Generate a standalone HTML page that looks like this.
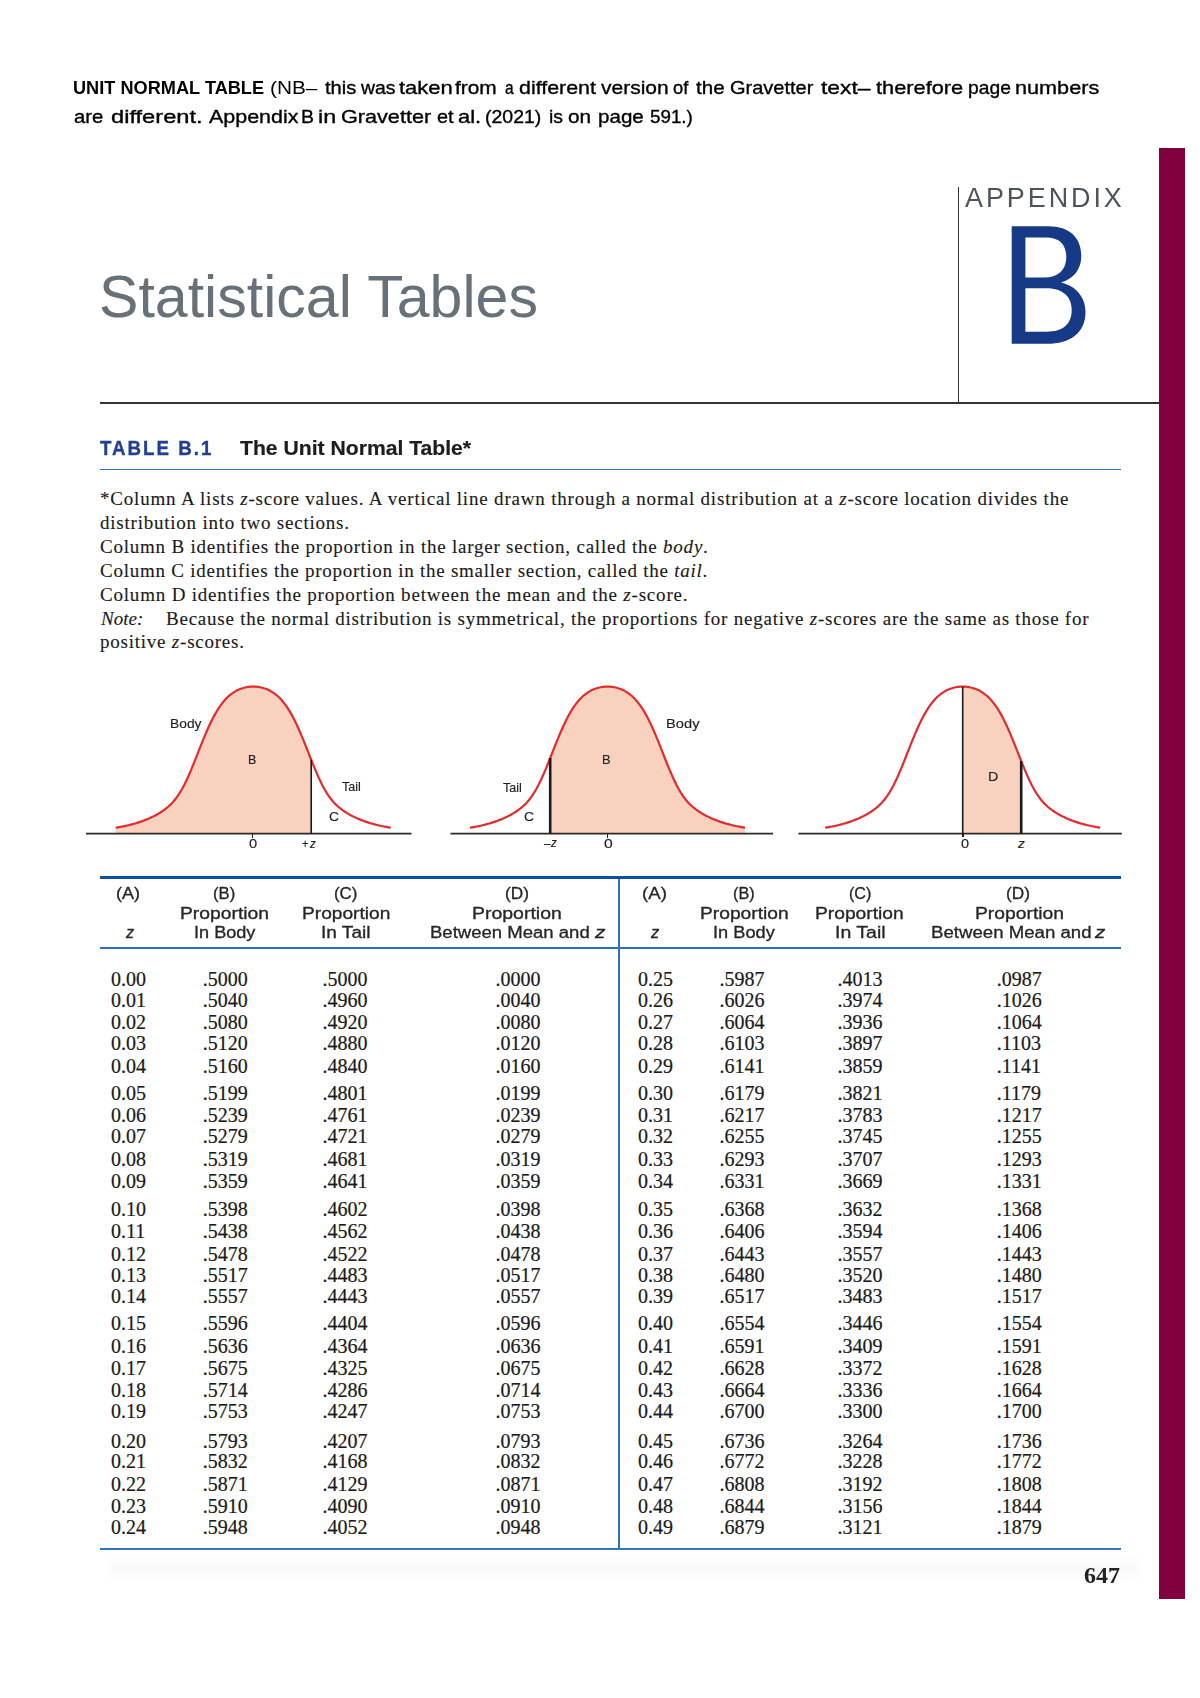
<!DOCTYPE html>
<html><head><meta charset="utf-8"><style>
html,body{margin:0;padding:0;background:#fff;}
body{width:1200px;height:1698px;position:relative;overflow:hidden;}
.t{position:absolute;white-space:nowrap;line-height:1;transform-origin:0 0;}
.ctr{text-align:center;}
.r{position:absolute;}
.abs{position:absolute;}
.d{position:absolute;white-space:nowrap;line-height:1;font-family:'Liberation Serif', serif;font-size:20px;color:#1a1a1a;-webkit-text-stroke:0.2px #1a1a1a;}
.sb{font-weight:normal;}
</style></head><body>
<div class="t" style="left:73.04px;top:77.92px;font-family:'Liberation Sans', sans-serif;font-size:19px;font-weight:bold;font-style:normal;color:#000;transform:scaleX(0.9562);">UNIT NORMAL TABLE</div>
<div class="t" style="left:269.90px;top:77.92px;font-family:'Liberation Sans', sans-serif;font-size:19px;font-weight:normal;font-style:normal;color:#000;transform:scaleX(1.0955);">(NB–</div>
<div class="t" style="left:325.20px;top:77.92px;font-family:'Liberation Sans', sans-serif;font-size:19px;font-weight:normal;font-style:normal;color:#000;transform:scaleX(1.0596);-webkit-text-stroke:0.35px #000;">this</div>
<div class="t" style="left:361.02px;top:77.92px;font-family:'Liberation Sans', sans-serif;font-size:19px;font-weight:normal;font-style:normal;color:#000;transform:scaleX(1.0208);-webkit-text-stroke:0.35px #000;">was</div>
<div class="t" style="left:398.50px;top:77.92px;font-family:'Liberation Sans', sans-serif;font-size:19px;font-weight:normal;font-style:normal;color:#000;transform:scaleX(1.1587);-webkit-text-stroke:0.35px #000;">taken</div>
<div class="t" style="left:455.00px;top:77.92px;font-family:'Liberation Sans', sans-serif;font-size:19px;font-weight:normal;font-style:normal;color:#000;transform:scaleX(1.0976);-webkit-text-stroke:0.35px #000;">from</div>
<div class="t" style="left:504.70px;top:77.92px;font-family:'Liberation Sans', sans-serif;font-size:19px;font-weight:normal;font-style:normal;color:#000;transform:scaleX(0.8182);-webkit-text-stroke:0.35px #000;">a</div>
<div class="t" style="left:519.00px;top:77.92px;font-family:'Liberation Sans', sans-serif;font-size:19px;font-weight:normal;font-style:normal;color:#000;transform:scaleX(1.1256);-webkit-text-stroke:0.35px #000;">different</div>
<div class="t" style="left:601.00px;top:77.92px;font-family:'Liberation Sans', sans-serif;font-size:19px;font-weight:normal;font-style:normal;color:#000;transform:scaleX(1.1041);-webkit-text-stroke:0.35px #000;">version</div>
<div class="t" style="left:673.00px;top:77.92px;font-family:'Liberation Sans', sans-serif;font-size:19px;font-weight:normal;font-style:normal;color:#000;transform:scaleX(0.9658);-webkit-text-stroke:0.35px #000;">of</div>
<div class="t" style="left:696.00px;top:77.92px;font-family:'Liberation Sans', sans-serif;font-size:19px;font-weight:normal;font-style:normal;color:#000;transform:scaleX(1.0834);-webkit-text-stroke:0.35px #000;">the</div>
<div class="t" style="left:730.00px;top:77.92px;font-family:'Liberation Sans', sans-serif;font-size:19px;font-weight:normal;font-style:normal;color:#000;transform:scaleX(1.0518);-webkit-text-stroke:0.35px #000;">Gravetter</div>
<div class="t" style="left:821.25px;top:77.92px;font-family:'Liberation Sans', sans-serif;font-size:19px;font-weight:normal;font-style:normal;color:#000;transform:scaleX(1.2012);-webkit-text-stroke:0.35px #000;">text–</div>
<div class="t" style="left:875.50px;top:77.92px;font-family:'Liberation Sans', sans-serif;font-size:19px;font-weight:normal;font-style:normal;color:#000;transform:scaleX(1.1460);-webkit-text-stroke:0.35px #000;">therefore</div>
<div class="t" style="left:967.74px;top:77.92px;font-family:'Liberation Sans', sans-serif;font-size:19px;font-weight:normal;font-style:normal;color:#000;transform:scaleX(1.0135);-webkit-text-stroke:0.35px #000;">page</div>
<div class="t" style="left:1015.11px;top:77.92px;font-family:'Liberation Sans', sans-serif;font-size:19px;font-weight:normal;font-style:normal;color:#000;transform:scaleX(1.1392);-webkit-text-stroke:0.35px #000;">numbers</div>
<div class="t" style="left:73.75px;top:106.92px;font-family:'Liberation Sans', sans-serif;font-size:19px;font-weight:normal;font-style:normal;color:#000;transform:scaleX(1.0690);-webkit-text-stroke:0.35px #000;">are</div>
<div class="t" style="left:111.25px;top:106.92px;font-family:'Liberation Sans', sans-serif;font-size:19px;font-weight:normal;font-style:normal;color:#000;transform:scaleX(1.2447);-webkit-text-stroke:0.35px #000;">different.</div>
<div class="t" style="left:208.75px;top:106.92px;font-family:'Liberation Sans', sans-serif;font-size:19px;font-weight:normal;font-style:normal;color:#000;transform:scaleX(1.1288);-webkit-text-stroke:0.35px #000;">Appendix</div>
<div class="t" style="left:301.48px;top:106.92px;font-family:'Liberation Sans', sans-serif;font-size:19px;font-weight:normal;font-style:normal;color:#000;transform:scaleX(1.0227);-webkit-text-stroke:0.35px #000;">B</div>
<div class="t" style="left:317.52px;top:106.92px;font-family:'Liberation Sans', sans-serif;font-size:19px;font-weight:normal;font-style:normal;color:#000;transform:scaleX(1.2291);-webkit-text-stroke:0.35px #000;">in</div>
<div class="t" style="left:340.80px;top:106.92px;font-family:'Liberation Sans', sans-serif;font-size:19px;font-weight:normal;font-style:normal;color:#000;transform:scaleX(1.1382);-webkit-text-stroke:0.35px #000;">Gravetter</div>
<div class="t" style="left:436.70px;top:106.92px;font-family:'Liberation Sans', sans-serif;font-size:19px;font-weight:normal;font-style:normal;color:#000;transform:scaleX(1.0443);-webkit-text-stroke:0.35px #000;">et</div>
<div class="t" style="left:458.30px;top:106.92px;font-family:'Liberation Sans', sans-serif;font-size:19px;font-weight:normal;font-style:normal;color:#000;transform:scaleX(1.1550);-webkit-text-stroke:0.35px #000;">al.</div>
<div class="t" style="left:484.77px;top:106.92px;font-family:'Liberation Sans', sans-serif;font-size:19px;font-weight:normal;font-style:normal;color:#000;transform:scaleX(1.0262);-webkit-text-stroke:0.35px #000;">(2021)</div>
<div class="t" style="left:548.98px;top:106.92px;font-family:'Liberation Sans', sans-serif;font-size:19px;font-weight:normal;font-style:normal;color:#000;transform:scaleX(1.0228);-webkit-text-stroke:0.35px #000;">is</div>
<div class="t" style="left:568.30px;top:106.92px;font-family:'Liberation Sans', sans-serif;font-size:19px;font-weight:normal;font-style:normal;color:#000;transform:scaleX(1.0940);-webkit-text-stroke:0.35px #000;">on</div>
<div class="t" style="left:598.12px;top:106.92px;font-family:'Liberation Sans', sans-serif;font-size:19px;font-weight:normal;font-style:normal;color:#000;transform:scaleX(1.0835);-webkit-text-stroke:0.35px #000;">page</div>
<div class="t" style="left:650.00px;top:106.92px;font-family:'Liberation Sans', sans-serif;font-size:19px;font-weight:normal;font-style:normal;color:#000;transform:scaleX(0.9888);-webkit-text-stroke:0.35px #000;">591.)</div>
<div class="r" style="left:1159.1px;top:148px;width:26.3px;height:1451px;background:#81003e;"></div>
<div class="r" style="left:957.5px;top:187px;width:1.6px;height:217px;background:#333;"></div>
<div class="r" style="left:100px;top:402.2px;width:1059px;height:1.6px;background:#333;"></div>
<div id="appendix" class="t" style="left:965.00px;top:183.72px;font-family:'Liberation Sans', sans-serif;font-size:27.5px;font-weight:normal;font-style:normal;color:#4d555a;letter-spacing:3px;transform:scaleX(0.9797);">APPENDIX</div>
<svg class="abs" style="left:0;top:0" width="1200" height="420" viewBox="0 0 1200 420"><path fill="#163a85" fill-rule="evenodd" d="M1011.7,226.3 L1048,226.3 C1070,226.3 1081.3,238 1081.3,256 C1081.3,270 1073,279 1061,282.5 C1076,286 1085.5,297 1085.5,312 C1085.5,333 1070,343.8 1047,343.8 L1011.7,343.8 Z M1025.4,237.5 L1046,237.5 C1059,237.5 1066.3,244 1066.3,257 C1066.3,270 1058,277.5 1044,277.5 L1025.4,277.5 Z M1025.4,288.3 L1047,288.3 C1063,288.3 1071.7,297 1071.7,310 C1071.7,324 1063,331.7 1047,331.7 L1025.4,331.7 Z"/></svg>
<div id="stat" class="t" style="left:99.00px;top:267.66px;font-family:'Liberation Sans', sans-serif;font-size:59px;font-weight:normal;font-style:normal;color:#66717a;letter-spacing:0px;transform:scaleX(1.0014);">Statistical Tables</div>
<div id="tb1" class="t" style="left:100.40px;top:437.95px;font-family:'Liberation Sans', sans-serif;font-size:20.5px;font-weight:bold;font-style:normal;color:#21418f;letter-spacing:2.2px;transform:scaleX(0.9131);-webkit-text-stroke:0.35px #21418f;">TABLE B.1</div>
<div id="tb2" class="t" style="left:240.00px;top:438.37px;font-family:'Liberation Sans', sans-serif;font-size:20px;font-weight:bold;font-style:normal;color:#1e1e1e;letter-spacing:0px;transform:scaleX(1.0574);-webkit-text-stroke:0.2px #1e1e1e;">The Unit Normal Table*</div>
<div class="r" style="left:100px;top:468.6px;width:1021px;height:1.8px;background:#3574bd;"></div>
<div id="p1" class="t" style="left:100.00px;top:489.09px;font-family:'Liberation Serif', serif;font-size:19px;font-weight:normal;font-style:normal;color:#1a1a1a;letter-spacing:0.8103448275862069px;-webkit-text-stroke:0.12px #1a1a1a;">*Column A lists <i>z</i>-score values. A vertical line drawn through a normal distribution at a <i>z</i>-score location divides the</div>
<div id="p2" class="t" style="left:100.00px;top:513.09px;font-family:'Liberation Serif', serif;font-size:19px;font-weight:normal;font-style:normal;color:#1a1a1a;letter-spacing:0.7700000000000025px;-webkit-text-stroke:0.12px #1a1a1a;">distribution into two sections.</div>
<div id="p3" class="t" style="left:100.00px;top:537.09px;font-family:'Liberation Serif', serif;font-size:19px;font-weight:normal;font-style:normal;color:#1a1a1a;letter-spacing:0.7780821917808196px;-webkit-text-stroke:0.12px #1a1a1a;">Column B identifies the proportion in the larger section, called the <i>body</i>.</div>
<div id="p4" class="t" style="left:100.00px;top:561.29px;font-family:'Liberation Serif', serif;font-size:19px;font-weight:normal;font-style:normal;color:#1a1a1a;letter-spacing:0.7540540540540519px;-webkit-text-stroke:0.12px #1a1a1a;">Column C identifies the proportion in the smaller section, called the <i>tail</i>.</div>
<div id="p5" class="t" style="left:100.00px;top:584.89px;font-family:'Liberation Serif', serif;font-size:19px;font-weight:normal;font-style:normal;color:#1a1a1a;letter-spacing:0.8074626865671594px;-webkit-text-stroke:0.12px #1a1a1a;">Column D identifies the proportion between the mean and the <i>z</i>-score.</div>
<div id="p6a" class="t" style="left:101.00px;top:609.09px;font-family:'Liberation Serif', serif;font-size:19px;font-weight:normal;font-style:normal;color:#1a1a1a;letter-spacing:0px;-webkit-text-stroke:0.12px #1a1a1a;"><i>Note:</i></div>
<div id="p6" class="t" style="left:166.00px;top:609.09px;font-family:'Liberation Serif', serif;font-size:19px;font-weight:normal;font-style:normal;color:#1a1a1a;letter-spacing:0.7745454545454488px;-webkit-text-stroke:0.12px #1a1a1a;">Because the normal distribution is symmetrical, the proportions for negative <i>z</i>-scores are the same as those for</div>
<div id="p7" class="t" style="left:100.00px;top:632.39px;font-family:'Liberation Serif', serif;font-size:19px;font-weight:normal;font-style:normal;color:#1a1a1a;letter-spacing:0.7705882352941226px;-webkit-text-stroke:0.12px #1a1a1a;">positive <i>z</i>-scores.</div>
<svg class="abs" style="left:0;top:0" width="1200" height="880" viewBox="0 0 1200 880"><polygon fill="#f8d1bf" points="115.70,833.60 115.70,827.67 118.14,827.29 120.59,826.88 123.03,826.42 125.47,825.92 127.92,825.38 130.36,824.79 132.81,824.15 135.25,823.45 137.69,822.70 140.14,821.89 142.58,821.02 145.02,820.08 147.47,819.08 149.91,818.01 152.36,816.86 154.80,815.63 157.24,814.31 159.69,812.89 162.13,811.34 164.57,809.63 167.02,807.73 169.46,805.58 171.91,803.15 174.35,800.38 176.79,797.22 179.24,793.63 181.68,789.58 184.12,785.06 186.57,780.10 189.01,774.73 191.46,769.02 193.90,763.04 196.34,756.90 198.79,750.69 201.23,744.52 203.67,738.47 206.12,732.64 208.56,727.10 211.01,721.90 213.45,717.09 215.89,712.68 218.34,708.68 220.78,705.10 223.22,701.92 225.67,699.12 228.11,696.68 230.56,694.57 233.00,692.77 235.44,691.24 237.89,689.97 240.33,688.93 242.77,688.10 245.22,687.46 247.66,687.00 250.11,686.71 252.55,686.59 254.99,686.63 257.44,686.83 259.88,687.19 262.32,687.73 264.77,688.46 267.21,689.39 269.66,690.53 272.10,691.92 274.54,693.57 276.99,695.52 279.43,697.78 281.88,700.38 284.32,703.36 286.76,706.73 289.21,710.50 291.65,714.69 294.09,719.29 296.54,724.29 298.98,729.65 301.42,735.34 303.87,741.28 306.31,747.40 308.76,753.60 311.20,759.79 311.20,833.60"/><polyline fill="none" stroke="#e42b2d" stroke-width="2.2" points="115.70,827.67 117.99,827.32 120.28,826.93 122.57,826.51 124.87,826.05 127.16,825.55 129.45,825.01 131.74,824.43 134.03,823.80 136.32,823.13 138.62,822.40 140.91,821.62 143.20,820.79 145.49,819.89 147.78,818.94 150.07,817.93 152.37,816.86 154.66,815.71 156.95,814.48 159.24,813.16 161.53,811.73 163.82,810.17 166.12,808.45 168.41,806.54 170.70,804.39 172.99,801.97 175.28,799.22 177.57,796.12 179.87,792.63 182.16,788.73 184.45,784.43 186.74,779.73 189.03,774.68 191.32,769.33 193.62,763.75 195.91,758.00 198.20,752.18 200.49,746.38 202.78,740.66 205.07,735.10 207.37,729.77 209.66,724.72 211.95,720.00 214.24,715.61 216.53,711.59 218.82,707.93 221.12,704.64 223.41,701.70 225.70,699.09 227.99,696.79 230.28,694.79 232.57,693.06 234.87,691.58 237.16,690.32 239.45,689.28 241.74,688.42 244.03,687.74 246.32,687.23 248.62,686.87 250.91,686.66 253.20,686.58 255.49,686.66 257.78,686.87 260.07,687.23 262.37,687.74 264.66,688.42 266.95,689.28 269.24,690.32 271.53,691.58 273.82,693.06 276.12,694.79 278.41,696.79 280.70,699.09 282.99,701.70 285.28,704.64 287.57,707.93 289.87,711.59 292.16,715.61 294.45,720.00 296.74,724.72 299.03,729.77 301.32,735.10 303.62,740.66 305.91,746.38 308.20,752.18 310.49,758.00 312.78,763.75 315.07,769.33 317.37,774.68 319.66,779.73 321.95,784.43 324.24,788.73 326.53,792.63 328.82,796.12 331.12,799.22 333.41,801.97 335.70,804.39 337.99,806.54 340.28,808.45 342.57,810.17 344.87,811.73 347.16,813.16 349.45,814.48 351.74,815.71 354.03,816.86 356.32,817.93 358.62,818.94 360.91,819.89 363.20,820.79 365.49,821.62 367.78,822.40 370.07,823.13 372.37,823.80 374.66,824.43 376.95,825.01 379.24,825.55 381.53,826.05 383.82,826.51 386.12,826.93 388.41,827.32 390.70,827.67"/><line x1="86" y1="833.6" x2="411.5" y2="833.6" stroke="#2a2a2a" stroke-width="1.6"/><line x1="311.2" y1="759.79" x2="311.2" y2="833.6" stroke="#1a1a1a" stroke-width="1.6"/><polygon fill="#f8d1bf" points="550.20,833.60 550.20,758.02 552.63,751.84 555.07,745.67 557.50,739.62 559.94,733.76 562.38,728.18 564.81,722.93 567.25,718.05 569.68,713.57 572.12,709.50 574.55,705.84 576.99,702.59 579.42,699.72 581.86,697.21 584.29,695.03 586.73,693.16 589.16,691.58 591.60,690.26 594.03,689.16 596.47,688.28 598.90,687.60 601.34,687.10 603.77,686.77 606.21,686.61 608.64,686.60 611.08,686.76 613.51,687.08 615.95,687.57 618.38,688.24 620.82,689.10 623.25,690.18 625.68,691.49 628.12,693.06 630.56,694.90 632.99,697.06 635.42,699.55 637.86,702.39 640.29,705.62 642.73,709.26 645.16,713.30 647.60,717.75 650.03,722.61 652.47,727.84 654.90,733.40 657.34,739.24 659.77,745.28 662.21,751.45 664.64,757.63 667.08,763.74 669.51,769.67 671.95,775.32 674.38,780.63 676.82,785.53 679.25,789.99 681.69,793.98 684.12,797.52 686.56,800.64 689.00,803.37 691.43,805.76 693.87,807.88 696.30,809.76 698.74,811.45 701.17,812.98 703.61,814.40 706.04,815.70 708.48,816.92 710.91,818.06 713.35,819.13 715.78,820.12 718.22,821.05 720.65,821.92 723.09,822.72 725.52,823.47 727.96,824.16 730.39,824.80 732.83,825.39 735.26,825.93 737.69,826.43 740.13,826.88 742.57,827.29 745.00,827.67 745.00,833.60"/><polyline fill="none" stroke="#e42b2d" stroke-width="2.2" points="470.00,827.67 472.29,827.32 474.58,826.93 476.88,826.51 479.17,826.05 481.46,825.55 483.75,825.01 486.04,824.43 488.33,823.80 490.62,823.13 492.92,822.40 495.21,821.62 497.50,820.79 499.79,819.89 502.08,818.94 504.38,817.93 506.67,816.86 508.96,815.71 511.25,814.48 513.54,813.16 515.83,811.73 518.12,810.17 520.42,808.45 522.71,806.54 525.00,804.39 527.29,801.97 529.58,799.22 531.88,796.12 534.17,792.63 536.46,788.73 538.75,784.43 541.04,779.73 543.33,774.68 545.62,769.33 547.92,763.75 550.21,758.00 552.50,752.18 554.79,746.38 557.08,740.66 559.38,735.10 561.67,729.77 563.96,724.72 566.25,720.00 568.54,715.61 570.83,711.59 573.12,707.93 575.42,704.64 577.71,701.70 580.00,699.09 582.29,696.79 584.58,694.79 586.88,693.06 589.17,691.58 591.46,690.32 593.75,689.28 596.04,688.42 598.33,687.74 600.62,687.23 602.92,686.87 605.21,686.66 607.50,686.58 609.79,686.66 612.08,686.87 614.38,687.23 616.67,687.74 618.96,688.42 621.25,689.28 623.54,690.32 625.83,691.58 628.12,693.06 630.42,694.79 632.71,696.79 635.00,699.09 637.29,701.70 639.58,704.64 641.88,707.93 644.17,711.59 646.46,715.61 648.75,720.00 651.04,724.72 653.33,729.77 655.62,735.10 657.92,740.66 660.21,746.38 662.50,752.18 664.79,758.00 667.08,763.75 669.38,769.33 671.67,774.68 673.96,779.73 676.25,784.43 678.54,788.73 680.83,792.63 683.12,796.12 685.42,799.22 687.71,801.97 690.00,804.39 692.29,806.54 694.58,808.45 696.88,810.17 699.17,811.73 701.46,813.16 703.75,814.48 706.04,815.71 708.33,816.86 710.62,817.93 712.92,818.94 715.21,819.89 717.50,820.79 719.79,821.62 722.08,822.40 724.38,823.13 726.67,823.80 728.96,824.43 731.25,825.01 733.54,825.55 735.83,826.05 738.12,826.51 740.42,826.93 742.71,827.32 745.00,827.67"/><line x1="450.5" y1="833.6" x2="773" y2="833.6" stroke="#2a2a2a" stroke-width="1.6"/><line x1="550.2" y1="758.02" x2="550.2" y2="833.6" stroke="#1a1a1a" stroke-width="2.6"/><polygon fill="#f8d1bf" points="962.70,833.60 962.70,686.58 963.43,686.59 964.16,686.61 964.89,686.65 965.62,686.70 966.36,686.77 967.09,686.85 967.82,686.94 968.55,687.05 969.28,687.17 970.01,687.32 970.74,687.47 971.48,687.65 972.21,687.83 972.94,688.04 973.67,688.26 974.40,688.50 975.13,688.76 975.86,689.04 976.59,689.34 977.33,689.65 978.06,689.99 978.79,690.35 979.52,690.72 980.25,691.12 980.98,691.55 981.71,691.99 982.44,692.46 983.18,692.95 983.91,693.47 984.64,694.02 985.37,694.59 986.10,695.19 986.83,695.82 987.56,696.47 988.29,697.16 989.03,697.87 989.76,698.62 990.49,699.40 991.22,700.21 991.95,701.05 992.68,701.93 993.41,702.84 994.14,703.78 994.88,704.76 995.61,705.78 996.34,706.83 997.07,707.92 997.80,709.05 998.53,710.22 999.26,711.42 999.99,712.65 1000.73,713.93 1001.46,715.24 1002.19,716.59 1002.92,717.98 1003.65,719.40 1004.38,720.86 1005.11,722.35 1005.84,723.88 1006.58,725.44 1007.31,727.03 1008.04,728.66 1008.77,730.31 1009.50,731.99 1010.23,733.70 1010.96,735.43 1011.69,737.18 1012.43,738.96 1013.16,740.75 1013.89,742.56 1014.62,744.39 1015.35,746.23 1016.08,748.07 1016.81,749.93 1017.54,751.79 1018.28,753.65 1019.01,755.51 1019.74,757.36 1020.47,759.21 1021.20,761.05 1021.20,833.60"/><polyline fill="none" stroke="#e42b2d" stroke-width="2.2" points="825.20,827.67 827.49,827.32 829.78,826.93 832.08,826.51 834.37,826.05 836.66,825.55 838.95,825.01 841.24,824.43 843.53,823.80 845.83,823.13 848.12,822.40 850.41,821.62 852.70,820.79 854.99,819.89 857.28,818.94 859.58,817.93 861.87,816.86 864.16,815.71 866.45,814.48 868.74,813.16 871.03,811.73 873.33,810.17 875.62,808.45 877.91,806.54 880.20,804.39 882.49,801.97 884.78,799.22 887.08,796.12 889.37,792.63 891.66,788.73 893.95,784.43 896.24,779.73 898.53,774.68 900.83,769.33 903.12,763.75 905.41,758.00 907.70,752.18 909.99,746.38 912.28,740.66 914.58,735.10 916.87,729.77 919.16,724.72 921.45,720.00 923.74,715.61 926.03,711.59 928.33,707.93 930.62,704.64 932.91,701.70 935.20,699.09 937.49,696.79 939.78,694.79 942.08,693.06 944.37,691.58 946.66,690.32 948.95,689.28 951.24,688.42 953.53,687.74 955.83,687.23 958.12,686.87 960.41,686.66 962.70,686.58 964.99,686.66 967.28,686.87 969.58,687.23 971.87,687.74 974.16,688.42 976.45,689.28 978.74,690.32 981.03,691.58 983.33,693.06 985.62,694.79 987.91,696.79 990.20,699.09 992.49,701.70 994.78,704.64 997.08,707.93 999.37,711.59 1001.66,715.61 1003.95,720.00 1006.24,724.72 1008.53,729.77 1010.83,735.10 1013.12,740.66 1015.41,746.38 1017.70,752.18 1019.99,758.00 1022.28,763.75 1024.58,769.33 1026.87,774.68 1029.16,779.73 1031.45,784.43 1033.74,788.73 1036.03,792.63 1038.33,796.12 1040.62,799.22 1042.91,801.97 1045.20,804.39 1047.49,806.54 1049.78,808.45 1052.08,810.17 1054.37,811.73 1056.66,813.16 1058.95,814.48 1061.24,815.71 1063.53,816.86 1065.83,817.93 1068.12,818.94 1070.41,819.89 1072.70,820.79 1074.99,821.62 1077.28,822.40 1079.58,823.13 1081.87,823.80 1084.16,824.43 1086.45,825.01 1088.74,825.55 1091.03,826.05 1093.33,826.51 1095.62,826.93 1097.91,827.32 1100.20,827.67"/><line x1="798.4" y1="833.6" x2="1121.8" y2="833.6" stroke="#2a2a2a" stroke-width="1.6"/><line x1="962.7" y1="686.58" x2="962.7" y2="833.6" stroke="#1a1a1a" stroke-width="1.6"/><line x1="1021.2" y1="761.05" x2="1021.2" y2="833.6" stroke="#1a1a1a" stroke-width="2.6"/></svg>
<div class="t" style="left:169.98px;top:716.87px;font-family:'Liberation Sans', sans-serif;font-size:13.5px;font-weight:normal;font-style:normal;color:#1e1e1e;transform:scaleX(1.0226);-webkit-text-stroke:0.15px #1e1e1e;">Body</div>
<div class="t" style="left:248.47px;top:753.47px;font-family:'Liberation Sans', sans-serif;font-size:13.5px;font-weight:normal;font-style:normal;color:#1e1e1e;transform:scaleX(0.9250);-webkit-text-stroke:0.15px #1e1e1e;">B</div>
<div class="t" style="left:342.40px;top:780.37px;font-family:'Liberation Sans', sans-serif;font-size:13.5px;font-weight:normal;font-style:normal;color:#1e1e1e;transform:scaleX(0.9330);-webkit-text-stroke:0.15px #1e1e1e;">Tail</div>
<div class="t" style="left:329.40px;top:809.57px;font-family:'Liberation Sans', sans-serif;font-size:13.5px;font-weight:normal;font-style:normal;color:#1e1e1e;transform:scaleX(1.0300);-webkit-text-stroke:0.15px #1e1e1e;">C</div>
<div class="t" style="left:249.20px;top:837.27px;font-family:'Liberation Sans', sans-serif;font-size:13.5px;font-weight:normal;font-style:normal;color:#1e1e1e;transform:scaleX(1.0857);-webkit-text-stroke:0.15px #1e1e1e;">0</div>
<div class="t" style="left:302.30px;top:836.77px;font-family:'Liberation Sans', sans-serif;font-size:13.5px;font-weight:normal;font-style:normal;color:#1e1e1e;transform:scaleX(0.8125);-webkit-text-stroke:0.15px #1e1e1e;">+</div>
<div class="t" style="left:310.45px;top:837.27px;font-family:'Liberation Sans', sans-serif;font-size:13.5px;font-weight:normal;font-style:italic;color:#1e1e1e;transform:scaleX(0.8500);-webkit-text-stroke:0.15px #1e1e1e;">z</div>
<div class="t" style="left:502.60px;top:780.57px;font-family:'Liberation Sans', sans-serif;font-size:13.5px;font-weight:normal;font-style:normal;color:#1e1e1e;transform:scaleX(0.9330);-webkit-text-stroke:0.15px #1e1e1e;">Tail</div>
<div class="t" style="left:523.70px;top:809.87px;font-family:'Liberation Sans', sans-serif;font-size:13.5px;font-weight:normal;font-style:normal;color:#1e1e1e;transform:scaleX(1.0300);-webkit-text-stroke:0.15px #1e1e1e;">C</div>
<div class="t" style="left:602.35px;top:753.27px;font-family:'Liberation Sans', sans-serif;font-size:13.5px;font-weight:normal;font-style:normal;color:#1e1e1e;transform:scaleX(0.9500);-webkit-text-stroke:0.15px #1e1e1e;">B</div>
<div class="t" style="left:665.91px;top:716.87px;font-family:'Liberation Sans', sans-serif;font-size:13.5px;font-weight:normal;font-style:normal;color:#1e1e1e;transform:scaleX(1.0893);-webkit-text-stroke:0.15px #1e1e1e;">Body</div>
<div class="t" style="left:543.80px;top:837.07px;font-family:'Liberation Sans', sans-serif;font-size:13.5px;font-weight:normal;font-style:normal;color:#1e1e1e;transform:scaleX(0.8375);-webkit-text-stroke:0.15px #1e1e1e;">–</div>
<div class="t" style="left:551.35px;top:836.37px;font-family:'Liberation Sans', sans-serif;font-size:13.5px;font-weight:normal;font-style:italic;color:#1e1e1e;transform:scaleX(0.8500);-webkit-text-stroke:0.15px #1e1e1e;">z</div>
<div class="t" style="left:603.90px;top:836.57px;font-family:'Liberation Sans', sans-serif;font-size:13.5px;font-weight:normal;font-style:normal;color:#1e1e1e;transform:scaleX(1.1571);-webkit-text-stroke:0.15px #1e1e1e;">0</div>
<div class="t" style="left:987.94px;top:769.57px;font-family:'Liberation Sans', sans-serif;font-size:13.5px;font-weight:normal;font-style:normal;color:#1e1e1e;transform:scaleX(1.0556);-webkit-text-stroke:0.15px #1e1e1e;">D</div>
<div class="t" style="left:960.50px;top:837.07px;font-family:'Liberation Sans', sans-serif;font-size:13.5px;font-weight:normal;font-style:normal;color:#1e1e1e;transform:scaleX(1.0714);-webkit-text-stroke:0.15px #1e1e1e;">0</div>
<div class="t" style="left:1018.00px;top:837.07px;font-family:'Liberation Sans', sans-serif;font-size:13.5px;font-weight:normal;font-style:italic;color:#1e1e1e;transform:scaleX(1.0000);-webkit-text-stroke:0.15px #1e1e1e;">z</div>
<div class="r" style="left:251.7px;top:833px;width:1.6px;height:4.5px;background:#1e1e1e;"></div>
<div class="r" style="left:606.7px;top:833px;width:1.6px;height:4.5px;background:#1e1e1e;"></div>
<div class="r" style="left:962.0px;top:833px;width:1.6px;height:4px;background:#1e1e1e;"></div>
<div class="r" style="left:617.9px;top:877px;width:1.8px;height:671px;background:#2f72bb;"></div>
<div class="r" style="left:100px;top:876.3px;width:1021px;height:3px;background:#0d4ea3;"></div>
<div class="r" style="left:100px;top:947.1px;width:1021px;height:1.6px;background:#2f72bb;"></div>
<div class="r" style="left:100px;top:1548.1px;width:1021px;height:2px;background:#3274bc;"></div>
<div class="t" style="left:116.38px;top:885.76px;font-family:'Liberation Sans', sans-serif;font-size:16px;font-weight:normal;font-style:normal;color:#262626;transform:scaleX(1.1250);-webkit-text-stroke:0.3px #262626;">(A)</div>
<div class="t" style="left:126.00px;top:924.86px;font-family:'Liberation Sans', sans-serif;font-size:16px;font-weight:normal;font-style:italic;color:#262626;transform:scaleX(1.0000);-webkit-text-stroke:0.3px #262626;">z</div>
<div class="t" style="left:213.16px;top:885.76px;font-family:'Liberation Sans', sans-serif;font-size:16px;font-weight:normal;font-style:normal;color:#262626;transform:scaleX(1.0400);-webkit-text-stroke:0.3px #262626;">(B)</div>
<div class="t" style="left:180.09px;top:906.06px;font-family:'Liberation Sans', sans-serif;font-size:16px;font-weight:normal;font-style:normal;color:#262626;transform:scaleX(1.2055);-webkit-text-stroke:0.3px #262626;">Proportion</div>
<div class="t" style="left:193.57px;top:924.86px;font-family:'Liberation Sans', sans-serif;font-size:16px;font-weight:normal;font-style:normal;color:#262626;transform:scaleX(1.1322);-webkit-text-stroke:0.3px #262626;">In Body</div>
<div class="t" style="left:333.95px;top:885.76px;font-family:'Liberation Sans', sans-serif;font-size:16px;font-weight:normal;font-style:normal;color:#262626;transform:scaleX(1.0535);-webkit-text-stroke:0.3px #262626;">(C)</div>
<div class="t" style="left:301.80px;top:906.06px;font-family:'Liberation Sans', sans-serif;font-size:16px;font-weight:normal;font-style:normal;color:#262626;transform:scaleX(1.1957);-webkit-text-stroke:0.3px #262626;">Proportion</div>
<div class="t" style="left:320.81px;top:924.86px;font-family:'Liberation Sans', sans-serif;font-size:16px;font-weight:normal;font-style:normal;color:#262626;transform:scaleX(1.1928);-webkit-text-stroke:0.3px #262626;">In Tail</div>
<div class="t" style="left:504.72px;top:885.76px;font-family:'Liberation Sans', sans-serif;font-size:16px;font-weight:normal;font-style:normal;color:#262626;transform:scaleX(1.0774);-webkit-text-stroke:0.3px #262626;">(D)</div>
<div class="t" style="left:472.08px;top:906.06px;font-family:'Liberation Sans', sans-serif;font-size:16px;font-weight:normal;font-style:normal;color:#262626;transform:scaleX(1.2166);-webkit-text-stroke:0.3px #262626;">Proportion</div>
<div class="t" style="left:429.64px;top:924.86px;font-family:'Liberation Sans', sans-serif;font-size:16px;font-weight:normal;font-style:normal;color:#262626;transform:scaleX(1.1583);-webkit-text-stroke:0.3px #262626;">Between Mean and</div>
<div class="t" style="left:594.60px;top:924.86px;font-family:'Liberation Sans', sans-serif;font-size:16px;font-weight:normal;font-style:italic;color:#262626;transform:scaleX(1.3000);-webkit-text-stroke:0.3px #262626;">z</div>
<div class="t" style="left:642.04px;top:885.76px;font-family:'Liberation Sans', sans-serif;font-size:16px;font-weight:normal;font-style:normal;color:#262626;transform:scaleX(1.1650);-webkit-text-stroke:0.3px #262626;">(A)</div>
<div class="t" style="left:650.53px;top:924.86px;font-family:'Liberation Sans', sans-serif;font-size:16px;font-weight:normal;font-style:italic;color:#262626;transform:scaleX(1.0333);-webkit-text-stroke:0.3px #262626;">z</div>
<div class="t" style="left:733.19px;top:885.76px;font-family:'Liberation Sans', sans-serif;font-size:16px;font-weight:normal;font-style:normal;color:#262626;transform:scaleX(1.0150);-webkit-text-stroke:0.3px #262626;">(B)</div>
<div class="t" style="left:699.60px;top:906.06px;font-family:'Liberation Sans', sans-serif;font-size:16px;font-weight:normal;font-style:normal;color:#262626;transform:scaleX(1.2013);-webkit-text-stroke:0.3px #262626;">Proportion</div>
<div class="t" style="left:712.56px;top:924.86px;font-family:'Liberation Sans', sans-serif;font-size:16px;font-weight:normal;font-style:normal;color:#262626;transform:scaleX(1.1379);-webkit-text-stroke:0.3px #262626;">In Body</div>
<div class="t" style="left:849.19px;top:885.76px;font-family:'Liberation Sans', sans-serif;font-size:16px;font-weight:normal;font-style:normal;color:#262626;transform:scaleX(1.0056);-webkit-text-stroke:0.3px #262626;">(C)</div>
<div class="t" style="left:815.10px;top:906.06px;font-family:'Liberation Sans', sans-serif;font-size:16px;font-weight:normal;font-style:normal;color:#262626;transform:scaleX(1.2013);-webkit-text-stroke:0.3px #262626;">Proportion</div>
<div class="t" style="left:834.98px;top:924.86px;font-family:'Liberation Sans', sans-serif;font-size:16px;font-weight:normal;font-style:normal;color:#262626;transform:scaleX(1.2176);-webkit-text-stroke:0.3px #262626;">In Tail</div>
<div class="t" style="left:1006.42px;top:885.76px;font-family:'Liberation Sans', sans-serif;font-size:16px;font-weight:normal;font-style:normal;color:#262626;transform:scaleX(1.0774);-webkit-text-stroke:0.3px #262626;">(D)</div>
<div class="t" style="left:974.59px;top:906.06px;font-family:'Liberation Sans', sans-serif;font-size:16px;font-weight:normal;font-style:normal;color:#262626;transform:scaleX(1.2055);-webkit-text-stroke:0.3px #262626;">Proportion</div>
<div class="t" style="left:931.34px;top:924.86px;font-family:'Liberation Sans', sans-serif;font-size:16px;font-weight:normal;font-style:normal;color:#262626;transform:scaleX(1.1642);-webkit-text-stroke:0.3px #262626;">Between Mean and</div>
<div class="t" style="left:1095.49px;top:924.86px;font-family:'Liberation Sans', sans-serif;font-size:16px;font-weight:normal;font-style:italic;color:#262626;transform:scaleX(1.2889);-webkit-text-stroke:0.3px #262626;">z</div>
<div class="d" style="left:111.0px;top:968.65px">0.00</div><div class="d" style="left:202.7px;top:968.65px">.5000</div><div class="d" style="left:322.4px;top:968.65px">.5000</div><div class="d" style="left:495.4px;top:968.65px">.0000</div><div class="d" style="left:111.0px;top:989.85px">0.01</div><div class="d" style="left:202.7px;top:989.85px">.5040</div><div class="d" style="left:322.4px;top:989.85px">.4960</div><div class="d" style="left:495.4px;top:989.85px">.0040</div><div class="d" style="left:111.0px;top:1011.85px">0.02</div><div class="d" style="left:202.7px;top:1011.85px">.5080</div><div class="d" style="left:322.4px;top:1011.85px">.4920</div><div class="d" style="left:495.4px;top:1011.85px">.0080</div><div class="d" style="left:111.0px;top:1033.05px">0.03</div><div class="d" style="left:202.7px;top:1033.05px">.5120</div><div class="d" style="left:322.4px;top:1033.05px">.4880</div><div class="d" style="left:495.4px;top:1033.05px">.0120</div><div class="d" style="left:111.0px;top:1056.25px">0.04</div><div class="d" style="left:202.7px;top:1056.25px">.5160</div><div class="d" style="left:322.4px;top:1056.25px">.4840</div><div class="d" style="left:495.4px;top:1056.25px">.0160</div><div class="d" style="left:111.0px;top:1083.25px">0.05</div><div class="d" style="left:202.7px;top:1083.25px">.5199</div><div class="d" style="left:322.4px;top:1083.25px">.4801</div><div class="d" style="left:495.4px;top:1083.25px">.0199</div><div class="d" style="left:111.0px;top:1105.05px">0.06</div><div class="d" style="left:202.7px;top:1105.05px">.5239</div><div class="d" style="left:322.4px;top:1105.05px">.4761</div><div class="d" style="left:495.4px;top:1105.05px">.0239</div><div class="d" style="left:111.0px;top:1126.25px">0.07</div><div class="d" style="left:202.7px;top:1126.25px">.5279</div><div class="d" style="left:322.4px;top:1126.25px">.4721</div><div class="d" style="left:495.4px;top:1126.25px">.0279</div><div class="d" style="left:111.0px;top:1148.95px">0.08</div><div class="d" style="left:202.7px;top:1148.95px">.5319</div><div class="d" style="left:322.4px;top:1148.95px">.4681</div><div class="d" style="left:495.4px;top:1148.95px">.0319</div><div class="d" style="left:111.0px;top:1171.05px">0.09</div><div class="d" style="left:202.7px;top:1171.05px">.5359</div><div class="d" style="left:322.4px;top:1171.05px">.4641</div><div class="d" style="left:495.4px;top:1171.05px">.0359</div><div class="d" style="left:111.0px;top:1199.05px">0.10</div><div class="d" style="left:202.7px;top:1199.05px">.5398</div><div class="d" style="left:322.4px;top:1199.05px">.4602</div><div class="d" style="left:495.4px;top:1199.05px">.0398</div><div class="d" style="left:111.0px;top:1220.75px">0.11</div><div class="d" style="left:202.7px;top:1220.75px">.5438</div><div class="d" style="left:322.4px;top:1220.75px">.4562</div><div class="d" style="left:495.4px;top:1220.75px">.0438</div><div class="d" style="left:111.0px;top:1243.85px">0.12</div><div class="d" style="left:202.7px;top:1243.85px">.5478</div><div class="d" style="left:322.4px;top:1243.85px">.4522</div><div class="d" style="left:495.4px;top:1243.85px">.0478</div><div class="d" style="left:111.0px;top:1264.55px">0.13</div><div class="d" style="left:202.7px;top:1264.55px">.5517</div><div class="d" style="left:322.4px;top:1264.55px">.4483</div><div class="d" style="left:495.4px;top:1264.55px">.0517</div><div class="d" style="left:111.0px;top:1286.25px">0.14</div><div class="d" style="left:202.7px;top:1286.25px">.5557</div><div class="d" style="left:322.4px;top:1286.25px">.4443</div><div class="d" style="left:495.4px;top:1286.25px">.0557</div><div class="d" style="left:111.0px;top:1313.25px">0.15</div><div class="d" style="left:202.7px;top:1313.25px">.5596</div><div class="d" style="left:322.4px;top:1313.25px">.4404</div><div class="d" style="left:495.4px;top:1313.25px">.0596</div><div class="d" style="left:111.0px;top:1336.05px">0.16</div><div class="d" style="left:202.7px;top:1336.05px">.5636</div><div class="d" style="left:322.4px;top:1336.05px">.4364</div><div class="d" style="left:495.4px;top:1336.05px">.0636</div><div class="d" style="left:111.0px;top:1358.25px">0.17</div><div class="d" style="left:202.7px;top:1358.25px">.5675</div><div class="d" style="left:322.4px;top:1358.25px">.4325</div><div class="d" style="left:495.4px;top:1358.25px">.0675</div><div class="d" style="left:111.0px;top:1380.45px">0.18</div><div class="d" style="left:202.7px;top:1380.45px">.5714</div><div class="d" style="left:322.4px;top:1380.45px">.4286</div><div class="d" style="left:495.4px;top:1380.45px">.0714</div><div class="d" style="left:111.0px;top:1401.15px">0.19</div><div class="d" style="left:202.7px;top:1401.15px">.5753</div><div class="d" style="left:322.4px;top:1401.15px">.4247</div><div class="d" style="left:495.4px;top:1401.15px">.0753</div><div class="d" style="left:111.0px;top:1431.05px">0.20</div><div class="d" style="left:202.7px;top:1431.05px">.5793</div><div class="d" style="left:322.4px;top:1431.05px">.4207</div><div class="d" style="left:495.4px;top:1431.05px">.0793</div><div class="d" style="left:111.0px;top:1450.95px">0.21</div><div class="d" style="left:202.7px;top:1450.95px">.5832</div><div class="d" style="left:322.4px;top:1450.95px">.4168</div><div class="d" style="left:495.4px;top:1450.95px">.0832</div><div class="d" style="left:111.0px;top:1473.85px">0.22</div><div class="d" style="left:202.7px;top:1473.85px">.5871</div><div class="d" style="left:322.4px;top:1473.85px">.4129</div><div class="d" style="left:495.4px;top:1473.85px">.0871</div><div class="d" style="left:111.0px;top:1496.05px">0.23</div><div class="d" style="left:202.7px;top:1496.05px">.5910</div><div class="d" style="left:322.4px;top:1496.05px">.4090</div><div class="d" style="left:495.4px;top:1496.05px">.0910</div><div class="d" style="left:111.0px;top:1516.75px">0.24</div><div class="d" style="left:202.7px;top:1516.75px">.5948</div><div class="d" style="left:322.4px;top:1516.75px">.4052</div><div class="d" style="left:495.4px;top:1516.75px">.0948</div><div class="d" style="left:638.0px;top:968.65px">0.25</div><div class="d" style="left:719.4px;top:968.65px">.5987</div><div class="d" style="left:837.5px;top:968.65px">.4013</div><div class="d" style="left:996.8px;top:968.65px">.0987</div><div class="d" style="left:638.0px;top:989.85px">0.26</div><div class="d" style="left:719.4px;top:989.85px">.6026</div><div class="d" style="left:837.5px;top:989.85px">.3974</div><div class="d" style="left:996.8px;top:989.85px">.1026</div><div class="d" style="left:638.0px;top:1011.85px">0.27</div><div class="d" style="left:719.4px;top:1011.85px">.6064</div><div class="d" style="left:837.5px;top:1011.85px">.3936</div><div class="d" style="left:996.8px;top:1011.85px">.1064</div><div class="d" style="left:638.0px;top:1033.05px">0.28</div><div class="d" style="left:719.4px;top:1033.05px">.6103</div><div class="d" style="left:837.5px;top:1033.05px">.3897</div><div class="d" style="left:996.8px;top:1033.05px">.1103</div><div class="d" style="left:638.0px;top:1056.25px">0.29</div><div class="d" style="left:719.4px;top:1056.25px">.6141</div><div class="d" style="left:837.5px;top:1056.25px">.3859</div><div class="d" style="left:996.8px;top:1056.25px">.1141</div><div class="d" style="left:638.0px;top:1083.25px">0.30</div><div class="d" style="left:719.4px;top:1083.25px">.6179</div><div class="d" style="left:837.5px;top:1083.25px">.3821</div><div class="d" style="left:996.8px;top:1083.25px">.1179</div><div class="d" style="left:638.0px;top:1105.05px">0.31</div><div class="d" style="left:719.4px;top:1105.05px">.6217</div><div class="d" style="left:837.5px;top:1105.05px">.3783</div><div class="d" style="left:996.8px;top:1105.05px">.1217</div><div class="d" style="left:638.0px;top:1126.25px">0.32</div><div class="d" style="left:719.4px;top:1126.25px">.6255</div><div class="d" style="left:837.5px;top:1126.25px">.3745</div><div class="d" style="left:996.8px;top:1126.25px">.1255</div><div class="d" style="left:638.0px;top:1148.95px">0.33</div><div class="d" style="left:719.4px;top:1148.95px">.6293</div><div class="d" style="left:837.5px;top:1148.95px">.3707</div><div class="d" style="left:996.8px;top:1148.95px">.1293</div><div class="d" style="left:638.0px;top:1171.05px">0.34</div><div class="d" style="left:719.4px;top:1171.05px">.6331</div><div class="d" style="left:837.5px;top:1171.05px">.3669</div><div class="d" style="left:996.8px;top:1171.05px">.1331</div><div class="d" style="left:638.0px;top:1199.05px">0.35</div><div class="d" style="left:719.4px;top:1199.05px">.6368</div><div class="d" style="left:837.5px;top:1199.05px">.3632</div><div class="d" style="left:996.8px;top:1199.05px">.1368</div><div class="d" style="left:638.0px;top:1220.75px">0.36</div><div class="d" style="left:719.4px;top:1220.75px">.6406</div><div class="d" style="left:837.5px;top:1220.75px">.3594</div><div class="d" style="left:996.8px;top:1220.75px">.1406</div><div class="d" style="left:638.0px;top:1243.85px">0.37</div><div class="d" style="left:719.4px;top:1243.85px">.6443</div><div class="d" style="left:837.5px;top:1243.85px">.3557</div><div class="d" style="left:996.8px;top:1243.85px">.1443</div><div class="d" style="left:638.0px;top:1264.55px">0.38</div><div class="d" style="left:719.4px;top:1264.55px">.6480</div><div class="d" style="left:837.5px;top:1264.55px">.3520</div><div class="d" style="left:996.8px;top:1264.55px">.1480</div><div class="d" style="left:638.0px;top:1286.25px">0.39</div><div class="d" style="left:719.4px;top:1286.25px">.6517</div><div class="d" style="left:837.5px;top:1286.25px">.3483</div><div class="d" style="left:996.8px;top:1286.25px">.1517</div><div class="d" style="left:638.0px;top:1313.25px">0.40</div><div class="d" style="left:719.4px;top:1313.25px">.6554</div><div class="d" style="left:837.5px;top:1313.25px">.3446</div><div class="d" style="left:996.8px;top:1313.25px">.1554</div><div class="d" style="left:638.0px;top:1336.05px">0.41</div><div class="d" style="left:719.4px;top:1336.05px">.6591</div><div class="d" style="left:837.5px;top:1336.05px">.3409</div><div class="d" style="left:996.8px;top:1336.05px">.1591</div><div class="d" style="left:638.0px;top:1358.25px">0.42</div><div class="d" style="left:719.4px;top:1358.25px">.6628</div><div class="d" style="left:837.5px;top:1358.25px">.3372</div><div class="d" style="left:996.8px;top:1358.25px">.1628</div><div class="d" style="left:638.0px;top:1380.45px">0.43</div><div class="d" style="left:719.4px;top:1380.45px">.6664</div><div class="d" style="left:837.5px;top:1380.45px">.3336</div><div class="d" style="left:996.8px;top:1380.45px">.1664</div><div class="d" style="left:638.0px;top:1401.15px">0.44</div><div class="d" style="left:719.4px;top:1401.15px">.6700</div><div class="d" style="left:837.5px;top:1401.15px">.3300</div><div class="d" style="left:996.8px;top:1401.15px">.1700</div><div class="d" style="left:638.0px;top:1431.05px">0.45</div><div class="d" style="left:719.4px;top:1431.05px">.6736</div><div class="d" style="left:837.5px;top:1431.05px">.3264</div><div class="d" style="left:996.8px;top:1431.05px">.1736</div><div class="d" style="left:638.0px;top:1450.95px">0.46</div><div class="d" style="left:719.4px;top:1450.95px">.6772</div><div class="d" style="left:837.5px;top:1450.95px">.3228</div><div class="d" style="left:996.8px;top:1450.95px">.1772</div><div class="d" style="left:638.0px;top:1473.85px">0.47</div><div class="d" style="left:719.4px;top:1473.85px">.6808</div><div class="d" style="left:837.5px;top:1473.85px">.3192</div><div class="d" style="left:996.8px;top:1473.85px">.1808</div><div class="d" style="left:638.0px;top:1496.05px">0.48</div><div class="d" style="left:719.4px;top:1496.05px">.6844</div><div class="d" style="left:837.5px;top:1496.05px">.3156</div><div class="d" style="left:996.8px;top:1496.05px">.1844</div><div class="d" style="left:638.0px;top:1516.75px">0.49</div><div class="d" style="left:719.4px;top:1516.75px">.6879</div><div class="d" style="left:837.5px;top:1516.75px">.3121</div><div class="d" style="left:996.8px;top:1516.75px">.1879</div>
<div class="r" style="left:110px;top:1556px;width:1030px;height:26px;background:linear-gradient(#fff,#f9f9f9 40%,#fcfcfc 80%,#fff);border-radius:13px;filter:blur(3px)"></div>
<div id="pg" class="t" style="left:1084.00px;top:1563.74px;font-family:'Liberation Serif', serif;font-size:23px;font-weight:bold;font-style:normal;color:#222;letter-spacing:0px;transform:scaleX(1.0401);">647</div>
</body></html>
